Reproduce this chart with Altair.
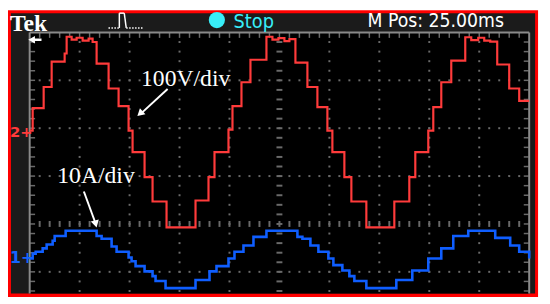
import altair as alt
import pandas as pd
import numpy as np

# ---- data ----
# CH2 voltage (red), time in ms, value in V
red_t = [0.0, 0.3, 1.4, 2.2, 3.5, 3.7, 4.2, 4.7, 5.3, 5.9, 6.3,
         6.7, 7.9, 8.9, 9.9, 10.3, 11.5, 12.3, 13.7, 16.6, 17.9, 18.5, 19.9,
         20.3, 21.2, 22.1, 23.7, 24.3, 24.9, 25.5, 26.0,
         26.6, 27.8, 28.8, 29.8, 30.3, 31.5, 32.2, 33.7,
         36.5, 38.0, 38.6, 39.9, 40.4, 41.2, 42.2, 43.6,
         44.2, 44.9, 45.5, 46.1, 46.8, 48.0, 49.0, 50.0]
red_v = [0, 47, 91, 144, 161, 196, 190, 194, 188, 192, 185,
         140, 88, 51, 0, -45, -97, -148, -202, -146, -97, -45, 2,
         51, 101, 148, 196, 190, 193, 187, 191,
         142, 91, 49, 0, -45, -97, -148, -202,
         -148, -97, -45, 0, 49, 101, 146, 195,
         189, 194, 188, 186, 138, 88, 62, 62]

# CH1 current (blue), time in ms, value in A
blue_t = [0.0, 0.3, 0.6, 1.3, 1.7, 2.3, 2.5, 3.6,
          6.7, 7.2, 8.2, 8.7, 9.9, 10.2, 10.6, 11.5, 12.3, 12.6, 13.6,
          16.6, 18.0, 18.7, 19.9, 20.5, 21.4, 22.4, 23.7,
          26.8, 27.3, 28.1, 28.9, 29.9, 30.4, 31.3, 32.0, 32.5, 33.7,
          36.7, 38.3, 39.9, 41.2, 42.4, 43.9,
          46.6, 48.1, 49.0, 50.0]
blue_a = [0.0, 1.0, 1.4, 2.1, 2.9, 3.7, 4.7, 5.8,
          4.7, 4.1, 2.5, 1.4, 0.2, -0.6, -1.6, -2.7, -3.7, -4.7, -6.2,
          -4.5, -2.7, -1.6, 0.0, 1.4, 2.7, 4.5, 5.8,
          4.5, 4.1, 2.7, 1.4, 0.0, -1.4, -2.5, -3.7, -4.7, -6.2,
          -4.5, -2.5, 0.0, 2.1, 4.7, 5.8,
          4.3, 2.7, 1.4, 0.0]

volts_per_div = 100.0
amps_per_div = 10.0
ch2_offset_div = 1.95
ch1_offset_div = -0.72

# ---- layout: chart sits 8px inside the page; P() turns page px into chart px ----
M = 8
def P(v):
    return v - M

W, H = 542, 296
xs = alt.Scale(domain=[-2.1696, 51.282], nice=False, zero=False)
ys = alt.Scale(domain=[-1.626, 4.465], nice=False, zero=False)

red_df = pd.DataFrame({"t": red_t, "v": red_v})
red_df["div"] = red_df["v"] / volts_per_div + ch2_offset_div
blue_df = pd.DataFrame({"t": blue_t, "a": blue_a})
blue_df["div"] = blue_df["a"] / amps_per_div + ch1_offset_div

one = pd.DataFrame({"k": [0]})
GRID = "#6a6a6a"

def box(x1, x2, y1, y2, color):
    return alt.Chart(one).mark_rect(color=color).encode(
        x=alt.value(P(x1)), x2=alt.value(P(x2)), y=alt.value(P(y1)), y2=alt.value(P(y2)))

frame = box(8, 546, 8, 299, "#ff0000")
panel = box(11, 543, 11, 295.5, "#1b1b1b")
screen = box(30, 537, 31, 295.5, "#000000")

# graticule
vlines = [5, 10, 15, 20, 30, 35, 40, 45]
hlines = [-1, 1, 2, 3]
dy = np.round(np.arange(-1.4, 4.0, 0.2), 2)
dt = np.arange(1, 50, 1.0)
dots = pd.concat([
    pd.DataFrame({"t": np.repeat(vlines, len(dy)), "div": np.tile(dy, len(vlines))}),
    pd.DataFrame({"t": np.tile(dt, len(hlines)), "div": np.repeat(hlines, len(dt))}),
])
dot_layer = alt.Chart(dots).mark_square(size=4, color=GRID, opacity=1).encode(
    x=alt.X("t:Q", scale=xs, axis=None), y=alt.Y("div:Q", scale=ys, axis=None))

hticks = pd.DataFrame({"t": dt, "div": 0.0})
htick_layer = alt.Chart(hticks).mark_tick(orient="vertical", size=6, thickness=2, color=GRID, opacity=1).encode(
    x=alt.X("t:Q", scale=xs), y=alt.Y("div:Q", scale=ys))
vticks = pd.DataFrame({"t": 25.0, "div": dy})
vtick_layer = alt.Chart(vticks).mark_tick(orient="horizontal", size=6, thickness=2, color=GRID, opacity=1).encode(
    x=alt.X("t:Q", scale=xs), y=alt.Y("div:Q", scale=ys))

top_ticks = pd.DataFrame({"t": dt, "div": 4.0})
top_layer = alt.Chart(top_ticks).mark_tick(orient="vertical", size=5, thickness=1.5, color=GRID, opacity=1, yOffset=3).encode(
    x=alt.X("t:Q", scale=xs), y=alt.Y("div:Q", scale=ys))
left_ticks = pd.DataFrame({"t": 0.0, "div": dy})
left_layer = alt.Chart(left_ticks).mark_tick(orient="horizontal", size=5, thickness=1.5, color=GRID, opacity=1, xOffset=3).encode(
    x=alt.X("t:Q", scale=xs), y=alt.Y("div:Q", scale=ys))
right_ticks = pd.DataFrame({"t": 50.0, "div": dy})
right_layer = alt.Chart(right_ticks).mark_tick(orient="horizontal", size=5, thickness=1.5, color=GRID, opacity=1, xOffset=-3).encode(
    x=alt.X("t:Q", scale=xs), y=alt.Y("div:Q", scale=ys))

edges = pd.DataFrame({"t": [0.0, 50.0], "y1": [-1.45, -1.45], "y2": [4.0, 4.0]})
edge_layer = alt.Chart(edges).mark_rule(color="#8a8a8a", strokeWidth=2).encode(
    x=alt.X("t:Q", scale=xs), y=alt.Y("y1:Q", scale=ys), y2="y2:Q")
top_edge = pd.DataFrame({"t1": [0.0], "t2": [50.0], "div": [4.0]})
top_edge_layer = alt.Chart(top_edge).mark_rule(color="#8a8a8a", strokeWidth=2).encode(
    x=alt.X("t1:Q", scale=xs), x2="t2:Q", y=alt.Y("div:Q", scale=ys))

# traces
red_line = alt.Chart(red_df).mark_line(interpolate="step-after", color="#ff3b3b", strokeWidth=2.2).encode(
    x=alt.X("t:Q", scale=xs), y=alt.Y("div:Q", scale=ys))
blue_line = alt.Chart(blue_df).mark_line(interpolate="step-after", color="#0f5eff", strokeWidth=2.6).encode(
    x=alt.X("t:Q", scale=xs), y=alt.Y("div:Q", scale=ys))

def label(text, x, y, size, color, font, weight="normal", align="left", baseline="alphabetic"):
    return alt.Chart(one).mark_text(text=text, fontSize=size, color=color, font=font,
                                    fontWeight=weight, align=align, baseline=baseline).encode(
        x=alt.value(P(x)), y=alt.value(P(y)))

NARROW = "Liberation Sans Narrow, DejaVu Sans Condensed, Roboto, sans-serif"
SERIF = "Liberation Serif, DejaVu Serif, serif"

tek = label("Tek", 10, 29.5, 24, "#ffffff", SERIF, weight="bold")
stop_dot = alt.Chart(one).mark_point(shape="circle", filled=True, size=270, color="#38eef8", opacity=1).encode(
    x=alt.value(P(220)), y=alt.value(P(18)))
stop = label("Stop", 237, 26.5, 20, "#38eef8", NARROW)
mpos = label("M Pos: 25.00ms", 373, 25.5, 19.5, "#ffffff", NARROW)

# trigger icon
def seg(x1, x2, y1, y2, dash=None, width=1.5):
    kw = {"color": "#ffffff", "strokeWidth": width}
    if dash:
        kw["strokeDash"] = dash
    return alt.Chart(one).mark_rule(**kw).encode(
        x=alt.value(P(x1)), x2=alt.value(P(x2)), y=alt.value(P(y1)), y2=alt.value(P(y2)))

pulse_b1 = seg(110, 121, 26, 26, [1.5, 1.5])
pulse_up = seg(121, 121, 26, 11)
pulse_top = seg(121, 126, 11, 11)
pulse_fall = seg(126, 128, 11, 26)
pulse_b2 = seg(128, 145, 26, 26, [1.5, 1.5])

ch2_mark = label("2+", 10, 137, 15, "#ff3b3b", "DejaVu Sans", weight="bold")
ch1_mark = label("1+", 10, 265, 16, "#1464ff", "DejaVu Sans", weight="bold")

# trigger-position pointer (left arrow) at the top-left of the screen
trig_shaft = seg(33, 42, 38, 38, width=2.5)
trig_head = alt.Chart(one).mark_point(shape="triangle-left", filled=True, size=60, color="#ffffff", opacity=1).encode(
    x=alt.value(P(32)), y=alt.value(P(38)))

v_label = label("100V/div", 143, 85, 24, "#ffffff", SERIF)
a_label = label("10A/div", 58, 183, 24, "#ffffff", SERIF)

arrow1 = seg(170, 144, 88, 112, width=2)
head1 = alt.Chart(one).mark_point(shape="triangle-up", filled=True, size=70, color="#ffffff", opacity=1, angle=228).encode(
    x=alt.value(P(142)), y=alt.value(P(113)))
arrow2 = seg(85, 96, 192, 222, width=2)
head2 = alt.Chart(one).mark_point(shape="triangle-up", filled=True, size=70, color="#ffffff", opacity=1, angle=165).encode(
    x=alt.value(P(97)), y=alt.value(P(225)))

chart = alt.layer(
    frame, panel, screen,
    dot_layer, htick_layer, vtick_layer, top_layer, left_layer, right_layer,
    edge_layer, top_edge_layer,
    red_line, blue_line,
    tek, stop_dot, stop, mpos,
    pulse_b1, pulse_up, pulse_top, pulse_fall, pulse_b2,
    ch2_mark, ch1_mark, trig_shaft, trig_head,
    v_label, a_label, arrow1, head1, arrow2, head2,
).properties(
    width=W, height=H, autosize=alt.AutoSizeParams(type="none"), padding=0,
    background="#ffffff",
).configure_view(stroke=None)

chart.save("out.html", embed_options={"renderer": "svg", "actions": False})
